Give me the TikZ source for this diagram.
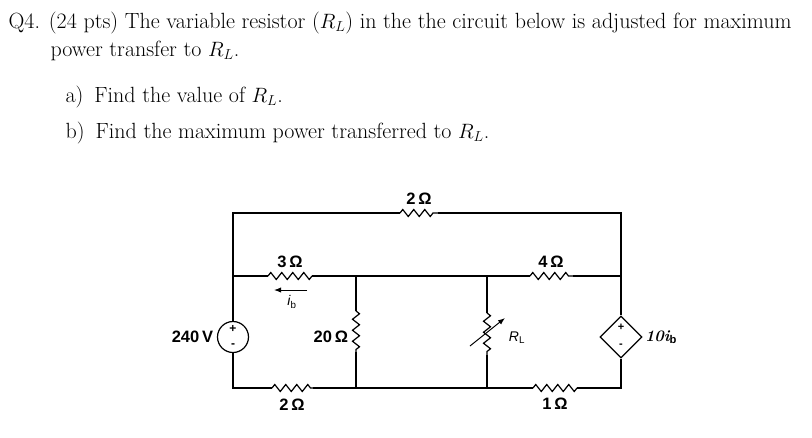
\documentclass[tikz,border=0pt]{standalone}
\usepackage{fontspec}
\newfontfamily\lab{Liberation Sans}
\usetikzlibrary{decorations.pathmorphing,arrows.meta,shapes.geometric}
\begin{document}
\begin{tikzpicture}[x=1pt,y=-1pt,line width=1.2pt,
  res/.style={decorate,decoration={zigzag,segment length=11pt,amplitude=3.5pt}},
  lbl/.style={font=\lab\bfseries\fontsize{16.5}{18}\selectfont},
  txt/.style={anchor=base west,inner sep=0,font=\fontsize{22}{26}\selectfont}]
\useasboundingbox (0,0) rectangle (812,437);
\node[txt] (l1) at (8,28) {Q4. (24 pts) The variable resistor ($R_L$) in the the circuit below is adjusted for maximum};
\node[txt] (l2) at (50,56) {power transfer to $R_L$.};
\node[txt] (l3) at (65,102) {a)\enspace Find the value of $R_L$.};
\node[txt] (l4) at (65,138) {b)\enspace Find the maximum power transferred to $R_L$.};
% coordinates
\coordinate (TL) at (233,213); \coordinate (TR) at (621,213);
\coordinate (ML) at (233,276); \coordinate (MA) at (356,276); \coordinate (MB) at (487,276); \coordinate (MR) at (621,276);
\coordinate (BL) at (233,388); \coordinate (BA) at (356,388); \coordinate (BB) at (487,388); \coordinate (BR) at (621,388);
\node[draw,circle,minimum size=31pt,inner sep=0] (V) at (233,337) {};
\node[draw,diamond,minimum size=42pt,inner sep=0,shape aspect=1] (D) at (621,337) {};
\draw (V.north) -- (TL) -- (400,213);
\draw[res] (400,213) -- (438,213);
\draw (438,213) -- (TR) -- (MR) -- (D.north);
\draw (ML) -- (268,276); \draw[res] (268,276) -- (312,276); \draw (312,276) -- (MB) -- (530,276);
\draw[res] (530,276) -- (573,276); \draw (573,276) -- (MR);
\draw (V.south) -- (BL) -- (272,388); \draw[res] (272,388) -- (313,388); \draw (313,388) -- (BB) -- (533,388);
\draw[res] (533,388) -- (577,388); \draw (577,388) -- (BR) -- (D.south);
\draw (MA) -- (356,311); \draw[res] (356,311) -- (356,352); \draw (356,352) -- (BA);
\draw (MB) -- (487,313); \draw[res] (487,313) -- (487,355); \draw (487,355) -- (BB);
\draw[line width=1pt,-{Latex[length=7pt]}] (470,346) -- (505,318);
\draw[line width=1pt,-{Latex[length=7pt]}] (307,290) -- (274,290);
\node[font=\lab\bfseries\fontsize{12}{12}\selectfont] at (233,329) {+};
\node[font=\lab\bfseries\fontsize{12}{12}\selectfont] at (233,346) {-};
\node[font=\lab\bfseries\fontsize{11}{11}\selectfont] at (621,327) {+};
\node[font=\lab\bfseries\fontsize{11}{11}\selectfont] at (621,346) {-};
\node[lbl] (a) at (419,199) {2\,Ω};
\node[lbl] (b) at (290,262) {3\,Ω};
\node[lbl] (c) at (551,262) {4\,Ω};
\node[lbl] (d) at (292,405) {2\,Ω};
\node[lbl] (e) at (555,404) {1\,Ω};
\node[lbl,anchor=east] (f) at (352,337) {20\,Ω};
\node[lbl,anchor=east] (g) at (217,337) {240\,V};
\node[lbl,font=\lab\fontsize{14}{16}\selectfont] (h) at (292,302) {\itshape i\textsubscript{\upshape b}};
\node[lbl,font=\lab\fontsize{14}{16}\selectfont] (i) at (517,338) {\itshape R\textsubscript{\upshape L}};
\node[font=\bfseries\fontsize{16}{18}\selectfont] (j) at (661,337) {\itshape 10i\textsubscript{\upshape\lab b}};
\end{tikzpicture}
\end{document}
